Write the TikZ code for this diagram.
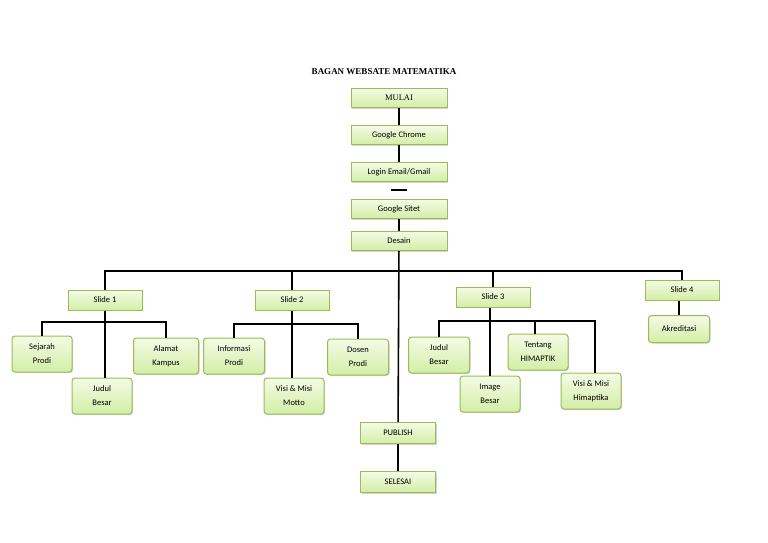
\documentclass[tikz,border=0pt]{standalone}
\usepackage{fontspec}
\setmainfont{Carlito}
\newfontfamily\titlefont{Liberation Serif}
\usetikzlibrary{shadows,positioning}
\definecolor{boxline}{HTML}{9BBB59}
\definecolor{boxtop}{HTML}{F4FBE6}
\definecolor{boxbot}{HTML}{D3EEA6}
\tikzset{
  flowbox/.style={draw=boxline, line width=1pt, top color=boxtop, bottom color=boxbot,
    drop shadow={shadow xshift=1pt, shadow yshift=-1pt, opacity=.35},
    minimum width=96pt, minimum height=19pt, inner sep=0pt, font=\fontsize{8.5}{10}\selectfont},
  slide/.style={flowbox, minimum width=74pt, minimum height=20pt},
  leaf/.style={flowbox, rounded corners=3pt, minimum width=60pt, minimum height=36pt,
    align=center, font=\fontsize{8.5}{14}\selectfont},
  link/.style={line width=1.6pt, black}
}
\begin{document}
\begin{tikzpicture}[x=1pt, y=-1pt]
    \useasboundingbox (0,0) rectangle (768,543);
    \node[font=\titlefont\bfseries\fontsize{9}{10}\selectfont] (title) at (384,72) {BAGAN WEBSATE MATEMATIKA};

    % Main flow
    \node[flowbox, font=\titlefont\fontsize{8.5}{10}\selectfont] (mulai) at (399,98) {MULAI};
    \node[flowbox] (chrome) at (399,135) {Google Chrome};
    \node[flowbox] (login) at (399,172) {Login Email/Gmail};
    \node[flowbox] (sitet) at (399,209) {Google Sitet};
    \node[flowbox] (desain) at (399,241) {Desain};
    \node[flowbox, minimum width=75pt, minimum height=21pt] (publish) at (398,433) {PUBLISH};
    \node[flowbox, minimum width=75pt, minimum height=21pt] (selesai) at (398,482) {SELESAI};

    \draw[link] (mulai) -- (chrome);
    \draw[link] (chrome) -- (login);
    \draw[link] (sitet) -- (desain);
    \coordinate (dashL) at (391,190);
    \coordinate (dashR) at (407,190);
    \draw[link] (dashL) -- (dashR);
    \draw[link] (desain) -- (publish);
    \draw[link] (publish) -- (selesai);

    % Slides
    \node[slide] (s1) at (105,300) {Slide 1};
    \node[slide] (s2) at (292,300) {Slide 2};
    \node[slide] (s3) at (493,297) {Slide 3};
    \node[slide] (s4) at (682,290) {Slide 4};
    \coordinate (bus) at (399,271);
    \draw[link] (s1.north) |- (bus) -| (s4.north);
    \draw[link] (s2.north) -- (s2.north |- bus);
    \draw[link] (s3.north) -- (s3.north |- bus);

    % Slide 1
    \node[leaf] (sejarah) at (42,354) {Sejarah\\Prodi};
    \node[leaf, minimum width=65pt] (alamat) at (166,356) {Alamat\\Kampus};
    \node[leaf] (judul1) at (102,396) {Judul\\Besar};
    \draw[link] (s1) -- (s1 |- judul1.north);
    \draw[link] (sejarah.north) |- (105,322) -| (alamat.north);

    % Slide 2
    \node[leaf, minimum width=61pt] (info) at (234,356) {Informasi\\Prodi};
    \node[leaf, minimum width=61pt] (dosen) at (358,357) {Dosen\\Prodi};
    \node[leaf] (visi2) at (294,396) {Visi \& Misi\\Motto};
    \draw[link] (s2) -- (s2 |- visi2.north);
    \draw[link] (info.north) |- (292,324) -| (dosen.north);

    % Slide 3
    \node[leaf, minimum width=61pt] (judul3) at (439,355) {Judul\\Besar};
    \node[leaf] (tentang) at (538,352) {Tentang\\HIMAPTIK};
    \node[leaf] (image) at (490,394) {Image\\Besar};
    \node[leaf] (visi3) at (591,391) {Visi \& Misi\\Himaptika};
    \coordinate (bar3) at (595,321);
    \coordinate (tab3) at (535,321);
    \draw[link] (s3.south -| image) -- (image.north);
    \draw[link] (judul3.north) |- (bar3) -- (visi3.north -| bar3);
    \draw[link] (tab3) -- (tab3 |- tentang.north);

    % Slide 4
    \node[leaf, minimum height=27pt, minimum width=61pt] (akre) at (679,329) {Akreditasi};
    \draw[link] (s4.south -| akre) -- (akre.north);
\end{tikzpicture}
\end{document}
